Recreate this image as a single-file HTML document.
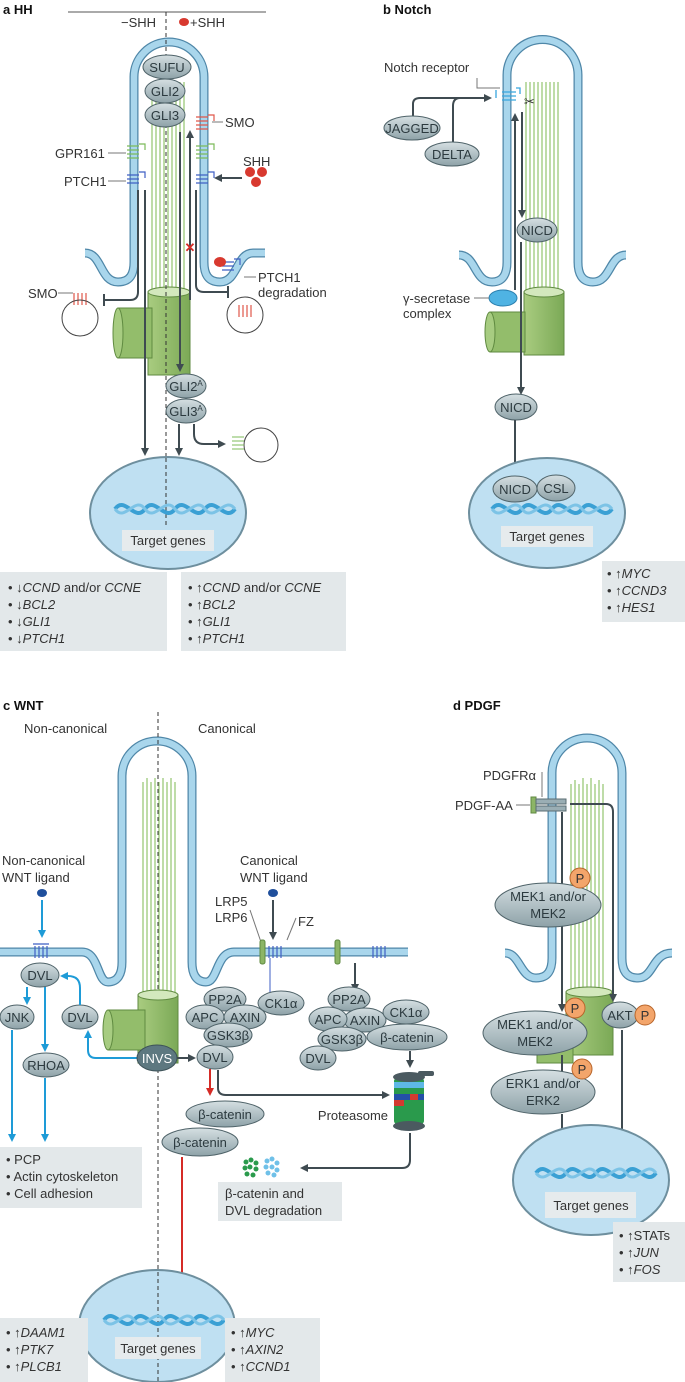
<!DOCTYPE html>
<html><head><meta charset="utf-8"><style>
html,body{margin:0;padding:0;background:#fff}
svg{display:block}
text{font-family:"Liberation Sans",sans-serif;fill:#333;font-size:13px}
.b{font-weight:bold;fill:#111}
.e{fill:url(#gg);stroke:#4f6369;stroke-width:1}
.et{font-size:13px;text-anchor:middle;fill:#2c3a3f}
.mo{fill:none;stroke:#4f87a8;stroke-width:9}
.mi{fill:none;stroke:#a9d6ec;stroke-width:6.5}
.ln{fill:none;stroke:#3f4b51;stroke-width:2}
.bl{fill:none;stroke:#1e9bd7;stroke-width:2}
.rd{fill:none;stroke:#d52b26;stroke-width:2}
.ax{stroke:#9cc97a;stroke-width:1.3}
.box{fill:#e3e8ea}
.nuc{fill:#bfe0f2;stroke:#6e8f9e;stroke-width:2}
.it{font-style:italic}
</style></head><body>
<svg width="685" height="1382" viewBox="0 0 685 1382" xmlns="http://www.w3.org/2000/svg">
<defs>
<linearGradient id="gg" x1="0" y1="0" x2="0" y2="1"><stop offset="0" stop-color="#d5dfe2"/><stop offset="1" stop-color="#8ea2a8"/></linearGradient>
<linearGradient id="cyl" x1="0" y1="0" x2="1" y2="0"><stop offset="0" stop-color="#a9cc80"/><stop offset="1" stop-color="#7ba956"/></linearGradient>
<marker id="ak" markerWidth="8" markerHeight="8" refX="6" refY="4" orient="auto" markerUnits="userSpaceOnUse"><path d="M0,0 L8,4 L0,8 Z" fill="#3f4b51"/></marker>
<marker id="ab" markerWidth="8" markerHeight="8" refX="6" refY="4" orient="auto" markerUnits="userSpaceOnUse"><path d="M0,0 L8,4 L0,8 Z" fill="#1e9bd7"/></marker>
<marker id="ar" markerWidth="8" markerHeight="8" refX="6" refY="4" orient="auto" markerUnits="userSpaceOnUse"><path d="M0,0 L8,4 L0,8 Z" fill="#d52b26"/></marker>
<g id="dna"><path d="M0,0 C10,-14 20,14 30,0 C40,-14 50,14 60,0 C70,-14 80,14 90,0 C100,-14 110,14 120,0" fill="none" stroke="#3aa0d4" stroke-width="4"/><path d="M0,0 C10,14 20,-14 30,0 C40,14 50,-14 60,0 C70,14 80,-14 90,0 C100,14 110,-14 120,0" fill="none" stroke="#7cc3e6" stroke-width="3"/></g>
</defs>

<!-- ============ PANEL A ============ -->
<text x="3" y="14" class="b" font-size="14">a  HH</text>
<line x1="68" y1="12" x2="266" y2="12" stroke="#555" stroke-width="1"/>
<text x="121" y="27">−SHH</text>
<ellipse cx="184" cy="22" rx="5" ry="4" fill="#d8392f"/>
<text x="190" y="27">+SHH</text>
<g class="ax"><line x1="152" y1="82" x2="152" y2="298"/><line x1="156" y1="82" x2="156" y2="298"/><line x1="160" y1="82" x2="160" y2="298"/><line x1="164" y1="82" x2="164" y2="298"/><line x1="168" y1="82" x2="168" y2="298"/><line x1="172" y1="82" x2="172" y2="298"/><line x1="176" y1="82" x2="176" y2="298"/><line x1="180" y1="82" x2="180" y2="298"/><line x1="184" y1="82" x2="184" y2="298"/></g>
<path class="mo" d="M85,253 C102,253 100,282 118,282 C130,282 134,274 134,262 L134,77 A35,35 0 0 1 204,77 L204,262 C204,274 208,282 220,282 C238,282 236,253 253,253 L265,253"/>
<path class="mi" d="M85,253 C102,253 100,282 118,282 C130,282 134,274 134,262 L134,77 A35,35 0 0 1 204,77 L204,262 C204,274 208,282 220,282 C238,282 236,253 253,253 L265,253"/>
<rect x="148" y="292" width="42" height="83" fill="url(#cyl)" stroke="#5f8a40"/>
<ellipse cx="169" cy="292" rx="21" ry="5" fill="#d3e8bd" stroke="#5f8a40"/>
<rect x="118" y="308" width="34" height="50" fill="#93bd6b" stroke="#5f8a40"/>
<ellipse cx="118" cy="333" rx="5" ry="25" fill="#a7cc81" stroke="#5f8a40"/>
<line x1="166" y1="12" x2="166" y2="528" stroke="#333" stroke-dasharray="4,3"/>
<ellipse class="e" cx="167" cy="67" rx="24" ry="12"/><text class="et" x="167" y="72">SUFU</text>
<ellipse class="e" cx="165" cy="91" rx="20" ry="12"/><text class="et" x="165" y="96">GLI2</text>
<ellipse class="e" cx="165" cy="115" rx="20" ry="12"/><text class="et" x="165" y="120">GLI3</text>
<g fill="none" stroke-width="1.2">
<path d="M196,117 h12 M196,121 h12 M196,125 h12 M196,129 h12 M208,115 h6 v6" stroke="#e0574a"/>
<path d="M127,146 h12 M127,150 h12 M127,154 h12 M127,158 h12 M139,144 h6 v6" stroke="#7cbb5a"/>
<path d="M196,146 h12 M196,150 h12 M196,154 h12 M196,158 h12 M208,144 h6 v6" stroke="#7cbb5a"/>
<path d="M127,175 h12 M127,179 h12 M127,183 h12 M139,172 h6 v6" stroke="#3f5fc4"/>
<path d="M196,175 h12 M196,179 h12 M196,183 h12 M208,172 h6 v6" stroke="#3f5fc4"/>
<path d="M222,262 h12 M222,266 h12 M222,270 h12 M234,259 h6 v6" stroke="#3f5fc4"/>
<path d="M74,293 v12 M78,293 v12 M82,293 v12 M86,293 v12" stroke="#e0574a"/>
<path d="M239,305 v12 M243,305 v12 M247,305 v12 M251,305 v12" stroke="#e0574a"/>
</g>
<text x="225" y="127">SMO</text><line x1="212" y1="122" x2="223" y2="122" stroke="#777"/>
<text x="55" y="158">GPR161</text><line x1="108" y1="153" x2="126" y2="153" stroke="#777"/>
<text x="64" y="186">PTCH1</text><line x1="108" y1="181" x2="126" y2="181" stroke="#777"/>
<text x="28" y="298">SMO</text><line x1="58" y1="293" x2="73" y2="293" stroke="#777"/>
<text x="258" y="282">PTCH1</text><text x="258" y="297">degradation</text><line x1="244" y1="277" x2="256" y2="277" stroke="#777"/>
<circle cx="80" cy="318" r="18" fill="none" stroke="#444"/>
<circle cx="245" cy="315" r="18" fill="none" stroke="#444"/>
<ellipse cx="220" cy="262" rx="6" ry="5" fill="#d8392f"/>
<text x="243" y="166">SHH</text>
<circle cx="250" cy="172" r="5" fill="#d8392f"/><circle cx="262" cy="172" r="5" fill="#d8392f"/><circle cx="256" cy="182" r="5" fill="#d8392f"/>
<line class="ln" x1="242" y1="178" x2="216" y2="178" marker-end="url(#ak)"/>
<line class="ln" x1="145" y1="190" x2="145" y2="454" marker-end="url(#ak)"/>
<path class="ln" d="M138,190 V292 Q138,300 130,300 H104"/><line class="ln" x1="104" y1="294" x2="104" y2="306"/>
<path class="ln" d="M196,190 V285 Q196,292 204,292 H228"/><line class="ln" x1="228" y1="286" x2="228" y2="298"/>
<line class="ln" x1="190" y1="300" x2="190" y2="132" marker-end="url(#ak)"/>
<line class="ln" x1="180" y1="132" x2="180" y2="370" marker-end="url(#ak)"/>
<text x="190" y="252" font-size="15" font-weight="bold" text-anchor="middle" style="fill:#d52b26">✕</text>
<ellipse class="e" cx="186" cy="386" rx="20" ry="12"/><text class="et" x="186" y="391">GLI2<tspan font-size="8" dy="-5">A</tspan></text>
<ellipse class="e" cx="186" cy="411" rx="20" ry="12"/><text class="et" x="186" y="416">GLI3<tspan font-size="8" dy="-5">A</tspan></text>
<line class="ln" x1="179" y1="424" x2="179" y2="454" marker-end="url(#ak)"/>
<path class="ln" d="M194,424 V434 Q194,444 204,444 H224" marker-end="url(#ak)"/>
<circle cx="261" cy="445" r="17" fill="none" stroke="#444"/>
<path d="M232,437 h12 M232,441 h12 M232,445 h12 M232,449 h12" stroke="#7cbb5a" fill="none"/>
<ellipse class="nuc" cx="168" cy="513" rx="78" ry="56"/>
<line x1="166" y1="458" x2="166" y2="528" stroke="#333" stroke-dasharray="4,3"/>
<use href="#dna" x="115" y="509"/>
<rect x="122" y="530" width="92" height="21" fill="#e6ebed"/>
<text x="168" y="545" text-anchor="middle">Target genes</text>
<rect class="box" x="0" y="572" width="167" height="79"/>
<rect class="box" x="181" y="572" width="165" height="79"/>
<g font-size="14"><text x="8" y="592">• ↓<tspan class="it">CCND</tspan> and/or <tspan class="it">CCNE</tspan></text>
<text x="8" y="609">• ↓<tspan class="it">BCL2</tspan></text><text x="8" y="626">• ↓<tspan class="it">GLI1</tspan></text><text x="8" y="643">• ↓<tspan class="it">PTCH1</tspan></text>
<text x="188" y="592">• ↑<tspan class="it">CCND</tspan> and/or <tspan class="it">CCNE</tspan></text>
<text x="188" y="609">• ↑<tspan class="it">BCL2</tspan></text><text x="188" y="626">• ↑<tspan class="it">GLI1</tspan></text><text x="188" y="643">• ↑<tspan class="it">PTCH1</tspan></text></g>

<!-- ============ PANEL B ============ -->
<text x="383" y="14" class="b" font-size="14">b  Notch</text>
<g class="ax"><line x1="526" y1="82" x2="526" y2="295"/><line x1="530" y1="82" x2="530" y2="295"/><line x1="534" y1="82" x2="534" y2="295"/><line x1="538" y1="82" x2="538" y2="295"/><line x1="542" y1="82" x2="542" y2="295"/><line x1="546" y1="82" x2="546" y2="295"/><line x1="550" y1="82" x2="550" y2="295"/><line x1="554" y1="82" x2="554" y2="295"/><line x1="558" y1="82" x2="558" y2="295"/></g>
<path class="mo" d="M459,255 C476,255 474,282 492,282 C503,282 507,274 507,262 L507,75 A35.5,35.5 0 0 1 578,75 L578,262 C578,274 582,282 593,282 C611,282 609,255 626,255"/>
<path class="mi" d="M459,255 C476,255 474,282 492,282 C503,282 507,274 507,262 L507,75 A35.5,35.5 0 0 1 578,75 L578,262 C578,274 582,282 593,282 C611,282 609,255 626,255"/>
<rect x="524" y="292" width="40" height="63" fill="url(#cyl)" stroke="#5f8a40"/>
<ellipse cx="544" cy="292" rx="20" ry="5" fill="#d3e8bd" stroke="#5f8a40"/>
<rect x="490" y="312" width="35" height="40" fill="#93bd6b" stroke="#5f8a40"/>
<ellipse cx="490" cy="332" rx="5" ry="20" fill="#a7cc81" stroke="#5f8a40"/>
<path d="M502,92 h14 M502,96 h14 M502,100 h14 M496,90 v8 M516,88 h4 v6" stroke="#39a6de" fill="none" stroke-width="1.3"/>
<text x="524" y="106" font-size="12">✂</text>
<text x="384" y="72">Notch receptor</text>
<path d="M477,78 V88 H500" stroke="#777" fill="none"/>
<path class="ln" d="M413,118 V104 Q413,98 420,98 H490" marker-end="url(#ak)"/>
<path class="ln" d="M453,142 V106 Q453,98 460,98"/>
<ellipse class="e" cx="412" cy="128" rx="28" ry="12"/><text class="et" x="412" y="133">JAGGED</text>
<ellipse class="e" cx="452" cy="154" rx="27" ry="12"/><text class="et" x="452" y="159">DELTA</text>
<line class="ln" x1="515" y1="290" x2="515" y2="115" marker-end="url(#ak)"/>
<line class="ln" x1="522" y1="112" x2="522" y2="216" marker-end="url(#ak)"/>
<ellipse class="e" cx="537" cy="230" rx="20" ry="12"/><text class="et" x="537" y="235">NICD</text>
<ellipse cx="503" cy="298" rx="14" ry="8" fill="#4fb3e3" stroke="#2a7fae"/>
<text x="403" y="303">γ-secretase</text><text x="403" y="318">complex</text>
<line x1="474" y1="298" x2="489" y2="298" stroke="#777"/>
<line class="ln" x1="521" y1="242" x2="521" y2="393" marker-end="url(#ak)"/>
<ellipse class="e" cx="516" cy="407" rx="21" ry="13"/><text class="et" x="516" y="412">NICD</text>
<line class="ln" x1="515" y1="420" x2="515" y2="476" marker-end="url(#ak)"/>
<ellipse class="nuc" cx="547" cy="513" rx="78" ry="55"/>
<use href="#dna" x="492" y="509"/>
<ellipse class="e" cx="515" cy="489" rx="22" ry="13"/><text class="et" x="515" y="494">NICD</text>
<ellipse class="e" cx="556" cy="488" rx="19" ry="13"/><text class="et" x="556" y="493">CSL</text>
<rect x="501" y="526" width="92" height="21" fill="#e6ebed"/>
<text x="547" y="541" text-anchor="middle">Target genes</text>
<rect class="box" x="602" y="561" width="83" height="61"/>
<g font-size="14"><text x="607" y="578">• ↑<tspan class="it">MYC</tspan></text><text x="607" y="595">• ↑<tspan class="it">CCND3</tspan></text><text x="607" y="612">• ↑<tspan class="it">HES1</tspan></text></g>

<!-- ============ PANEL C ============ -->
<text x="3" y="710" class="b" font-size="14">c  WNT</text>
<text x="24" y="733">Non-canonical</text>
<text x="198" y="733">Canonical</text>
<g class="ax"><line x1="143" y1="782" x2="143" y2="995"/><line x1="147" y1="778" x2="147" y2="995"/><line x1="151" y1="782" x2="151" y2="995"/><line x1="155" y1="778" x2="155" y2="995"/><line x1="159" y1="782" x2="159" y2="995"/><line x1="163" y1="778" x2="163" y2="995"/><line x1="167" y1="782" x2="167" y2="995"/><line x1="171" y1="778" x2="171" y2="995"/><line x1="175" y1="782" x2="175" y2="995"/></g>
<path class="mo" d="M0,952 L82,952 C99,952 97,982 108,982 C118,982 122,974 122,962 L122,776 A35,35 0 0 1 192,776 L192,962 C192,974 196,982 206,982 C218,982 216,952 234,952 L408,952"/>
<path class="mi" d="M0,952 L82,952 C99,952 97,982 108,982 C118,982 122,974 122,962 L122,776 A35,35 0 0 1 192,776 L192,962 C192,974 196,982 206,982 C218,982 216,952 234,952 L408,952"/>
<line x1="158" y1="712" x2="158" y2="1382" stroke="#333" stroke-dasharray="4,3"/>
<rect x="138" y="995" width="40" height="68" fill="url(#cyl)" stroke="#5f8a40"/>
<ellipse cx="158" cy="995" rx="20" ry="5" fill="#d3e8bd" stroke="#5f8a40"/>
<rect x="108" y="1010" width="37" height="40" fill="#93bd6b" stroke="#5f8a40"/>
<ellipse cx="108" cy="1030" rx="5" ry="20" fill="#a7cc81" stroke="#5f8a40"/>
<text x="2" y="865">Non-canonical</text><text x="2" y="882">WNT ligand</text>
<text x="240" y="865">Canonical</text><text x="240" y="882">WNT ligand</text>
<ellipse cx="42" cy="893" rx="5" ry="4" fill="#1f4f9c"/>
<ellipse cx="273" cy="893" rx="5" ry="4" fill="#1f4f9c"/>
<text x="215" y="906">LRP5</text><text x="215" y="922">LRP6</text><text x="298" y="926">FZ</text>
<path d="M250,910 L262,945" stroke="#777" fill="none"/><path d="M296,918 L287,940" stroke="#777" fill="none"/>
<g fill="none" stroke="#3f5fc4" stroke-width="1.2">
<path d="M35,946 v12 M39,946 v12 M43,946 v12 M47,946 v12 M33,944 h16"/>
<path d="M269,946 v12 M273,946 v12 M277,946 v12 M281,946 v12"/>
<path d="M373,946 v12 M377,946 v12 M381,946 v12 M385,946 v12"/>
<line x1="270" y1="958" x2="270" y2="992" stroke-width="1"/>
</g>
<rect x="260" y="940" width="5" height="24" rx="2" fill="#8cb566" stroke="#5f8a40"/>
<rect x="335" y="940" width="5" height="24" rx="2" fill="#8cb566" stroke="#5f8a40"/>
<line class="bl" x1="42" y1="900" x2="42" y2="936" marker-end="url(#ab)"/>
<line class="ln" x1="273" y1="900" x2="273" y2="938" marker-end="url(#ak)"/>
<line class="ln" x1="355" y1="963" x2="355" y2="990" marker-end="url(#ak)"/>
<ellipse class="e" cx="40" cy="975" rx="19" ry="12"/><text class="et" x="40" y="980">DVL</text>
<line class="bl" x1="27" y1="987" x2="27" y2="1003" marker-end="url(#ab)"/>
<line class="bl" x1="45" y1="987" x2="45" y2="1050" marker-end="url(#ab)"/>
<ellipse class="e" cx="17" cy="1017" rx="17" ry="12"/><text class="et" x="17" y="1022">JNK</text>
<ellipse class="e" cx="80" cy="1017" rx="18" ry="12"/><text class="et" x="80" y="1022">DVL</text>
<ellipse class="e" cx="46" cy="1065" rx="23" ry="12"/><text class="et" x="46" y="1070">RHOA</text>
<path class="bl" d="M80,1005 V988 Q80,976 68,976 H62" marker-end="url(#ab)"/>
<path class="bl" d="M137,1058 H96 Q88,1058 88,1050 V1032" marker-end="url(#ab)"/>
<line class="bl" x1="12" y1="1030" x2="12" y2="1140" marker-end="url(#ab)"/>
<line class="bl" x1="45" y1="1078" x2="45" y2="1140" marker-end="url(#ab)"/>
<ellipse cx="157" cy="1058" rx="20" ry="13" fill="#5d7880" stroke="#3d5258"/><text x="157" y="1063" text-anchor="middle" style="fill:#fff">INVS</text>
<line class="ln" x1="177" y1="1058" x2="194" y2="1058" marker-end="url(#ak)"/>
<ellipse class="e" cx="225" cy="999" rx="21" ry="12"/><text class="et" x="225" y="1004">PP2A</text>
<ellipse class="e" cx="245" cy="1017" rx="21" ry="12"/><text class="et" x="245" y="1022">AXIN</text>
<ellipse class="e" cx="205" cy="1017" rx="19" ry="12"/><text class="et" x="205" y="1022">APC</text>
<ellipse class="e" cx="281" cy="1003" rx="23" ry="12"/><text class="et" x="281" y="1008">CK1α</text>
<ellipse class="e" cx="228" cy="1035" rx="24" ry="12"/><text class="et" x="228" y="1040">GSK3β</text>
<ellipse class="e" cx="215" cy="1057" rx="18" ry="12"/><text class="et" x="215" y="1062">DVL</text>
<ellipse class="e" cx="349" cy="999" rx="21" ry="12"/><text class="et" x="349" y="1004">PP2A</text>
<ellipse class="e" cx="365" cy="1020" rx="21" ry="12"/><text class="et" x="365" y="1025">AXIN</text>
<ellipse class="e" cx="328" cy="1019" rx="19" ry="12"/><text class="et" x="328" y="1024">APC</text>
<ellipse class="e" cx="406" cy="1012" rx="23" ry="12"/><text class="et" x="406" y="1017">CK1α</text>
<ellipse class="e" cx="342" cy="1039" rx="24" ry="12"/><text class="et" x="342" y="1044">GSK3β</text>
<ellipse class="e" cx="407" cy="1037" rx="40" ry="13"/><text class="et" x="407" y="1042">β-catenin</text>
<ellipse class="e" cx="318" cy="1058" rx="18" ry="12"/><text class="et" x="318" y="1063">DVL</text>
<line class="ln" x1="410" y1="1051" x2="410" y2="1066" marker-end="url(#ak)"/>
<line class="rd" x1="210" y1="1069" x2="210" y2="1094" marker-end="url(#ar)"/>
<path class="ln" d="M218,1070 V1088 Q218,1095 226,1095 H388" marker-end="url(#ak)"/>
<g>
<rect x="394" y="1078" width="30" height="46" rx="3" fill="#2a9a4c"/>
<rect x="394" y="1082" width="30" height="6" fill="#5eb8e6"/><rect x="394" y="1094" width="30" height="6" fill="#2450a8"/><rect x="394" y="1100" width="10" height="6" fill="#d43a30"/><rect x="410" y="1094" width="8" height="6" fill="#d43a30"/>
<ellipse cx="409" cy="1077" rx="16" ry="5" fill="#4b5a60"/><rect x="418" y="1071" width="16" height="5" rx="2" fill="#4b5a60"/>
<ellipse cx="409" cy="1126" rx="16" ry="5" fill="#4b5a60"/>
</g>
<text x="388" y="1120" text-anchor="end">Proteasome</text>
<path class="ln" d="M410,1133 V1160 Q410,1168 402,1168 H302" marker-end="url(#ak)"/>
<g fill="#2a9a4c"><circle cx="246" cy="1162" r="2.5"/><circle cx="251" cy="1160" r="2.5"/><circle cx="256" cy="1163" r="2.5"/><circle cx="245" cy="1168" r="2.5"/><circle cx="250" cy="1167" r="2.5"/><circle cx="256" cy="1169" r="2.5"/><circle cx="247" cy="1174" r="2.5"/><circle cx="253" cy="1175" r="2.5"/></g>
<g fill="#6fc0e8"><circle cx="267" cy="1161" r="2.5"/><circle cx="272" cy="1159" r="2.5"/><circle cx="277" cy="1163" r="2.5"/><circle cx="266" cy="1167" r="2.5"/><circle cx="272" cy="1167" r="2.5"/><circle cx="277" cy="1170" r="2.5"/><circle cx="268" cy="1173" r="2.5"/><circle cx="274" cy="1175" r="2.5"/></g>
<rect class="box" x="218" y="1182" width="124" height="39"/>
<text x="225" y="1198">β-catenin and</text><text x="225" y="1215">DVL degradation</text>
<ellipse class="e" cx="225" cy="1114" rx="39" ry="13"/><text class="et" x="225" y="1119">β-catenin</text>
<ellipse class="e" cx="200" cy="1142" rx="38" ry="14"/><text class="et" x="200" y="1147">β-catenin</text>
<rect class="box" x="0" y="1147" width="142" height="61"/>
<g font-size="13"><text x="6" y="1164">• PCP</text><text x="6" y="1181">• Actin cytoskeleton</text><text x="6" y="1198">• Cell adhesion</text></g>
<line class="rd" x1="182" y1="1157" x2="182" y2="1282" marker-end="url(#ar)"/>
<ellipse class="nuc" cx="157" cy="1326" rx="78" ry="56"/>
<line x1="158" y1="1272" x2="158" y2="1382" stroke="#333" stroke-dasharray="4,3"/>
<use href="#dna" x="104" y="1320"/>
<rect x="115" y="1337" width="86" height="22" fill="#e6ebed"/>
<text x="158" y="1353" text-anchor="middle">Target genes</text>
<rect class="box" x="0" y="1318" width="88" height="64"/>
<rect class="box" x="225" y="1318" width="95" height="64"/>
<g font-size="13"><text x="6" y="1337">• ↑<tspan class="it">DAAM1</tspan></text><text x="6" y="1354">• ↑<tspan class="it">PTK7</tspan></text><text x="6" y="1371">• ↑<tspan class="it">PLCB1</tspan></text>
<text x="231" y="1337">• ↑<tspan class="it">MYC</tspan></text><text x="231" y="1354">• ↑<tspan class="it">AXIN2</tspan></text><text x="231" y="1371">• ↑<tspan class="it">CCND1</tspan></text></g>

<!-- ============ PANEL D ============ -->
<text x="453" y="710" class="b" font-size="14">d  PDGF</text>
<g class="ax"><line x1="571" y1="784" x2="571" y2="995"/><line x1="575" y1="780" x2="575" y2="995"/><line x1="579" y1="784" x2="579" y2="995"/><line x1="583" y1="778" x2="583" y2="995"/><line x1="587" y1="784" x2="587" y2="995"/><line x1="591" y1="778" x2="591" y2="995"/><line x1="595" y1="784" x2="595" y2="995"/><line x1="599" y1="780" x2="599" y2="995"/><line x1="603" y1="784" x2="603" y2="995"/></g>
<path class="mo" d="M505,953 C520,953 520,978 536,978 C548,978 552,970 552,958 L552,773 A35,35 0 0 1 622,773 L622,958 C622,970 626,978 638,978 C654,978 652,953 672,953"/>
<path class="mi" d="M505,953 C520,953 520,978 536,978 C548,978 552,970 552,958 L552,773 A35,35 0 0 1 622,773 L622,958 C622,970 626,978 638,978 C654,978 652,953 672,953"/>
<rect x="566" y="992" width="47" height="63" fill="url(#cyl)" stroke="#5f8a40"/>
<ellipse cx="589" cy="992" rx="23" ry="5" fill="#d3e8bd" stroke="#5f8a40"/>
<rect x="537" y="1030" width="36" height="33" fill="#93bd6b" stroke="#5f8a40"/>
<rect x="531" y="797" width="5" height="16" fill="#8cb566" stroke="#5f8a40"/>
<rect x="536" y="799" width="30" height="5" fill="#9aaeb4" stroke="#5a6c72"/>
<rect x="536" y="806" width="30" height="5" fill="#9aaeb4" stroke="#5a6c72"/>
<text x="483" y="780">PDGFRα</text>
<path d="M542,772 V797" stroke="#777" fill="none"/>
<text x="455" y="810">PDGF-AA</text><line x1="516" y1="805" x2="530" y2="805" stroke="#777"/>
<line class="ln" x1="562" y1="812" x2="562" y2="1010" marker-end="url(#ak)"/>
<path class="ln" d="M570,804 H606 Q613,804 613,812 V1000" marker-end="url(#ak)"/>
<ellipse class="e" cx="548" cy="905" rx="53" ry="22"/><text class="et" x="548" y="901">MEK1 and/or</text><text class="et" x="548" y="918">MEK2</text>
<circle cx="580" cy="878" r="10" fill="#f3a56b" stroke="#b8652a"/><text x="580" y="883" text-anchor="middle" font-size="12">P</text>
<ellipse class="e" cx="535" cy="1033" rx="52" ry="22"/><text class="et" x="535" y="1029">MEK1 and/or</text><text class="et" x="535" y="1046">MEK2</text>
<circle cx="575" cy="1008" r="10" fill="#f3a56b" stroke="#b8652a"/><text x="575" y="1013" text-anchor="middle" font-size="12">P</text>
<ellipse class="e" cx="620" cy="1015" rx="18" ry="13"/><text class="et" x="620" y="1020">AKT</text>
<circle cx="645" cy="1015" r="10" fill="#f3a56b" stroke="#b8652a"/><text x="645" y="1020" text-anchor="middle" font-size="12">P</text>
<line class="ln" x1="562" y1="1055" x2="562" y2="1072"/>
<ellipse class="e" cx="543" cy="1092" rx="52" ry="22"/><text class="et" x="543" y="1088">ERK1 and/or</text><text class="et" x="543" y="1105">ERK2</text>
<circle cx="582" cy="1069" r="10" fill="#f3a56b" stroke="#b8652a"/><text x="582" y="1074" text-anchor="middle" font-size="12">P</text>
<line class="ln" x1="562" y1="1114" x2="562" y2="1145" marker-end="url(#ak)"/>
<line class="ln" x1="622" y1="1030" x2="622" y2="1145" marker-end="url(#ak)"/>
<ellipse class="nuc" cx="591" cy="1180" rx="78" ry="55"/>
<use href="#dna" x="536" y="1173"/>
<rect x="545" y="1192" width="91" height="26" fill="#e6ebed"/>
<text x="591" y="1210" text-anchor="middle">Target genes</text>
<rect class="box" x="613" y="1222" width="72" height="60"/>
<g font-size="13"><text x="619" y="1240">• ↑STATs</text><text x="619" y="1257">• ↑<tspan class="it">JUN</tspan></text><text x="619" y="1274">• ↑<tspan class="it">FOS</tspan></text></g>
</svg>
</body></html>
